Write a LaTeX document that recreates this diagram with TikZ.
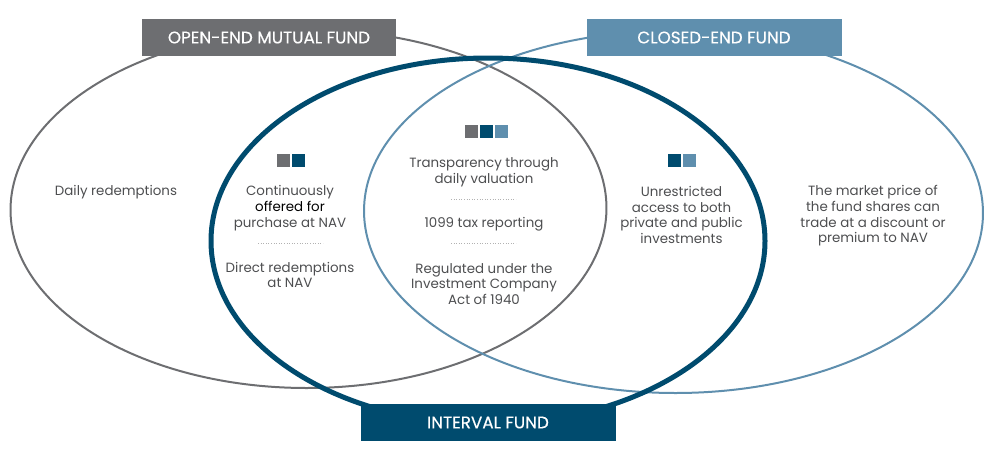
\documentclass[tikz,border=0pt]{standalone}
\usepackage{fontspec}
\setmainfont{Poppins}
\newfontfamily\bannerfont[FakeBold=0.35]{Poppins}
\usetikzlibrary{shapes,shapes.geometric}
\definecolor{fundgray}{HTML}{6D6E71}
\definecolor{funddark}{HTML}{004B6E}
\definecolor{fundblue}{HTML}{5F8FAE}
\definecolor{fundtext}{HTML}{4D4E50}
\begin{document}
\begin{tikzpicture}[x=1pt,y=-1pt,
	  every node/.append style={font=\fontsize{13.4}{15.7}\selectfont},
	  ring/.style={ellipse,fill=none,inner sep=0pt,outer sep=0pt},
	  banner/.style={minimum height=37pt,inner sep=0pt,text=white,font=\bannerfont\fontsize{16.8}{18}\selectfont},
	  swatch/.style={minimum size=13pt,inner sep=0pt}]
	  \tikzstyle{word} = [align=center,color=fundtext,inner sep=0pt]
	  \useasboundingbox (0,0) rectangle (992,453);
	  % the three rings
	  \node (open_ring) [ring,draw=fundgray,line width=2pt,minimum width=596pt,minimum height=358pt,rotate=0.3] at (308.5,209) {};
	  \node (closed_ring) [ring,draw=fundblue,line width=2pt,minimum width=619pt,minimum height=362pt,rotate=-0.3] at (673.5,212) {};
	  \node (interval_ring) [ring,draw=funddark,line width=5pt,minimum width=554pt,minimum height=366pt] at (488,241) {};
	  % banners
	  \node (open_label) [banner,fill=fundgray,minimum width=254pt] at (269,37.5) {OPEN-END MUTUAL FUND};
	  \node (closed_label) [banner,fill=fundblue,minimum width=255pt] at (714,37.5) {CLOSED-END FUND};
	  \node (interval_label) [banner,fill=funddark,minimum width=255pt] at (488,422.5) {INTERVAL FUND};
	  % swatches
	  \node (s_1) [swatch,fill=fundgray] at (283,160) {};
	  \node (s_2) [swatch,fill=funddark] at (298,160) {};
	  \node (s_3) [swatch,fill=fundgray] at (471,131) {};
	  \node (s_4) [swatch,fill=funddark] at (486,131) {};
	  \node (s_5) [swatch,fill=fundblue] at (501,131) {};
	  \node (s_6) [swatch,fill=funddark] at (674,160) {};
	  \node (s_7) [swatch,fill=fundblue] at (689,160) {};
	  % texts
	  \node (t_1) [word] at (116,192) {Daily redemptions};
	  \node (t_2) [word] at (290,208) {Continuously\\\textcolor{black}{offered for}\\purchase at NAV};
	  \node (t_3) [word] at (290,275) {Direct redemptions\\at NAV};
	  \node (t_4) [word] at (484,172) {Transparency through\\daily valuation};
	  \node (t_5) [word] at (484,224) {1099 tax reporting};
	  \node (t_6) [word] at (484,284) {Regulated under the\\Investment Company\\Act of 1940};
	  \node (t_7) [word] at (681.5,215) {Unrestricted\\access to both\\private and public\\investments};
	  \node (t_8) [word] at (873,216) {The market price of\\the fund shares can\\trade at a discount or\\premium to NAV};
	  % dotted rules
	  \draw[dotted,gray!60,line width=0.6pt] (258,243) -- (323,243);
	  \draw[dotted,gray!60,line width=0.6pt] (451,199) -- (516,199);
	  \draw[dotted,gray!60,line width=0.6pt] (451,243) -- (516,243);
	\end{tikzpicture}
\end{document}
